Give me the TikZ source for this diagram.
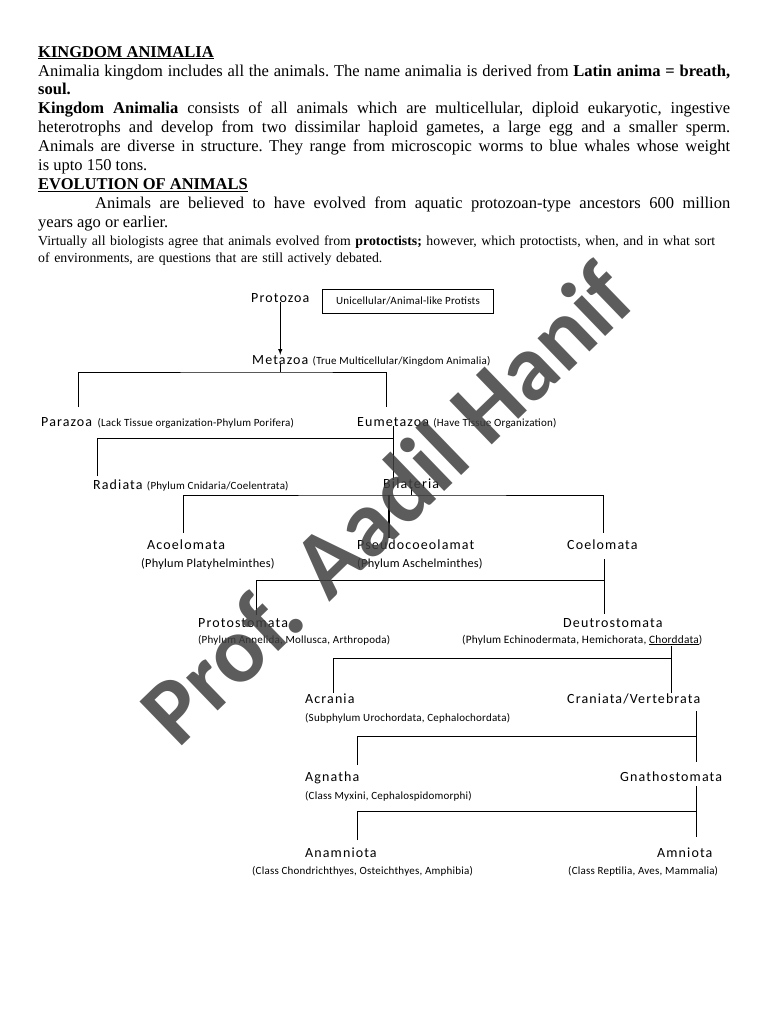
\documentclass[tikz,border=0pt]{standalone}
\usepackage{fontspec}
\setmainfont{Liberation Serif}
\newfontfamily\taxonfont[LetterSpace=8]{Carlito}
\newfontfamily\asidefont[LetterSpace=2]{Carlito}
\newfontfamily\stampfont{Carlito}

\begin{document}
\begin{tikzpicture}[x=1pt, y=-1pt,
        taxon/.style={font=\taxonfont\fontsize{14}{16}\selectfont, inner sep=0pt, anchor=base west},
        aside/.style={font=\asidefont\fontsize{11}{13}\selectfont, inner sep=0pt, anchor=base west},
        detail/.style={font=\asidefont\fontsize{11}{13}\selectfont, inner sep=0pt, anchor=base west},
        link/.style={line width=1pt},
        arrow/.style={->, >=latex, line width=1pt},
        stamp/.style={font=\stampfont\bfseries\fontsize{94}{96}\selectfont, text=black!75, opacity=0.85, rotate=44}
      ]
      \useasboundingbox (0,0) rectangle (768,1024);

      % Introduction text
      \node[anchor=north west, inner sep=0pt, text width=692pt, align=justify,
            font=\fontsize{16.5}{18.9}\selectfont\frenchspacing] (intro) at (38,46) {%
        {\bfseries\underline{KINGDOM ANIMALIA}}\\
        Animalia kingdom includes all the animals. The name animalia is derived from \textbf{Latin anima = breath,}\linebreak
        \textbf{soul.}\\
        \textbf{Kingdom Animalia} consists of all animals which are multicellular, diploid eukaryotic, ingestive\linebreak
        heterotrophs and develop from two dissimilar haploid gametes, a large egg and a smaller sperm.\linebreak
        Animals are diverse in structure. They range from microscopic worms to blue whales whose weight\linebreak
        is upto 150 tons.\\
        {\bfseries\underline{EVOLUTION OF ANIMALS}}\\
        \hspace*{57pt}Animals are believed to have evolved from aquatic protozoan-type ancestors 600 million\linebreak
        years ago or earlier.};

      \node[anchor=north west, inner sep=0pt, text width=720pt, align=left,
            font=\fontsize{13.8}{16.5}\selectfont\frenchspacing] (debate) at (38,236) {%
        Virtually all biologists agree that animals evolved from \textbf{protoctists;} however, which protoctists, when, and in what sort\\
        of environments, are questions that are still actively debated.};

      % Protozoa and Metazoa
      \node[taxon] (protozoa) at (251,302) {Protozoa};
      \node[aside, anchor=center, draw, line width=0.8pt, minimum width=171pt, minimum height=24pt] (protists) at (408,301) {Unicellular/Animal-like Protists};
      \node[taxon] (metazoa) at (252,364) {Metazoa};
      \node[aside] (metazoa-note) at ([xshift=4pt]metazoa.base east) {(True Multicellular/Kingdom Animalia)};

      % Parazoa and Eumetazoa
      \node[taxon] (parazoa) at (41,426) {Parazoa};
      \node[aside] (parazoa-note) at ([xshift=5pt]parazoa.base east) {(Lack Tissue organization-Phylum Porifera)};
      \node[taxon] (eumetazoa) at (357,426) {Eumetazoa};
      \node[aside] (eumetazoa-note) at ([xshift=4pt]eumetazoa.base east) {(Have Tissue Organization)};

      % Radiata and Bilateria
      \node[taxon] (radiata) at (93,489) {Radiata};
      \node[aside] (radiata-note) at ([xshift=4pt]radiata.base east) {(Phylum Cnidaria/Coelentrata)};
      \node[taxon] (bilateria) at (383,488) {Bilateria};

      % Body cavities
      \node[taxon] (acoelomata) at (147,549) {Acoelomata};
      \node[detail, font=\asidefont\fontsize{12.3}{14}\selectfont] (acoelomata-note) at (141,567) {(Phylum Platyhelminthes)};
      \node[taxon] (pseudo) at (357,549) {Pseudocoeolamat};
      \node[detail, font=\asidefont\fontsize{12.3}{14}\selectfont] (pseudo-note) at (357,567) {(Phylum Aschelminthes)};
      \node[taxon] (coelomata) at (567,549) {Coelomata};

      % Protostomata and Deutrostomata
      \node[taxon] (protostomata) at (198,627) {Protostomata};
      \node[detail] (protostomata-note) at (198,643) {(Phylum Annelida, Mollusca, Arthropoda)};
      \node[taxon] (deutrostomata) at (563,627) {Deutrostomata};
      \node[detail, font=\asidefont\fontsize{11.3}{13}\selectfont] (deutrostomata-note) at (462,643) {(Phylum Echinodermata, Hemichorata, \underline{Chorddata})};

      % Chordates
      \node[taxon] (acrania) at (305,703) {Acrania};
      \node[detail] (acrania-note) at (305,721) {(Subphylum Urochordata, Cephalochordata)};
      \node[taxon] (craniata) at (567,703) {Craniata/Vertebrata};
      \node[taxon] (agnatha) at (305,781) {Agnatha};
      \node[detail] (agnatha-note) at (305,799) {(Class Myxini, Cephalospidomorphi)};
      \node[taxon] (gnathostomata) at (620,781) {Gnathostomata};
      \node[taxon] (anamniota) at (305,857) {Anamniota};
      \node[detail] (anamniota-note) at (252,874) {(Class Chondrichthyes, Osteichthyes, Amphibia)};
      \node[taxon] (amniota) at (657,857) {Amniota};
      \node[detail] (amniota-note) at (568,874) {(Class Reptilia, Aves, Mammalia)};

      % Branch points
      \coordinate (mz-fork) at (metazoa.south |- 0,372);
      \coordinate (parazoa-top) at (78,407);
      \coordinate (eumetazoa-top) at (386,407);
      \coordinate (eu-fork) at (eumetazoa.south |- 0,438);
      \coordinate (radiata-top) at (97,476);
      \coordinate (bil-fork) at (bilateria.south |- 0,495);
      \coordinate (acoelomata-top) at (183,533);
      \coordinate (pseudo-top) at (389,538);
      \coordinate (coelomata-top) at (603,533);
      \coordinate (coel-fork) at (604,580);
      \coordinate (coel-low) at (604,559);
      \coordinate (protostomata-top) at (256,615);
      \coordinate (deutrostomata-top) at (604,614);
      \coordinate (chord) at (671,646);
      \coordinate (chord-fork) at (671,658);
      \coordinate (acrania-top) at (333,693);
      \coordinate (craniata-top) at (671,693);
      \coordinate (cran-low) at (696,711);
      \coordinate (cran-fork) at (696,736);
      \coordinate (agnatha-top) at (357,765);
      \coordinate (gnath-top) at (696,762);
      \coordinate (gnath-low) at (696,786);
      \coordinate (gnath-fork) at (696,811);
      \coordinate (anamniota-top) at (357,840);
      \coordinate (amniota-top) at (696,837);

      % Connect everything
      \draw[arrow] (protozoa.south) -- (protozoa.south |- metazoa.north);

      \draw[link] (metazoa.south) -- (mz-fork);
      \draw[link] (parazoa-top) |- (mz-fork) -| (eumetazoa-top);

      \draw[link] (eumetazoa.south) -- (eumetazoa.south |- bilateria.north);
      \draw[link] (radiata-top) |- (eu-fork);

      \draw[link] (bilateria.south) -- (bil-fork);
      \draw[link] (acoelomata-top) |- (bil-fork) -| (coelomata-top);
      \draw[line width=1.8pt] (pseudo-top) -- (pseudo-top |- bil-fork);

      \draw[link] (coel-low) -- (deutrostomata-top);
      \draw[link] (protostomata-top) |- (coel-fork);

      \draw[link] (chord) -- (craniata-top);
      \draw[link] (acrania-top) |- (chord-fork);

      \draw[link] (cran-low) -- (gnath-top);
      \draw[link] (agnatha-top) |- (cran-fork);

      \draw[link] (gnath-low) -- (amniota-top);
      \draw[link] (anamniota-top) |- (gnath-fork);

      % Watermark
      \node[stamp] (watermark) at (386,503) {Prof. Aadil Hanif};
    \end{tikzpicture}
\end{document}
